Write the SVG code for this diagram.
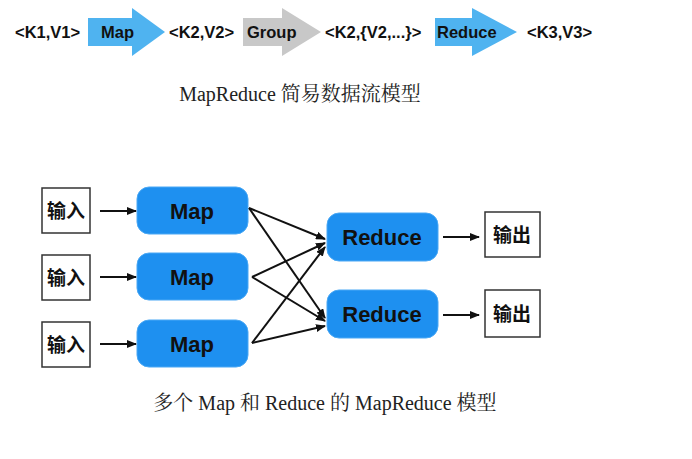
<svg xmlns="http://www.w3.org/2000/svg" width="692" height="459" viewBox="0 0 692 459">
<style>
.t{font-family:"Liberation Sans","Noto Sans CJK SC",sans-serif;font-weight:bold;fill:#111}
.cap{font-family:"Liberation Serif","Noto Serif CJK SC","Noto Sans CJK SC",serif;font-size:20px;fill:#222}
.blue{fill:#1e90f0;stroke:#4aa8f5;stroke-width:1}
.box{fill:#fff;stroke:#333;stroke-width:1.5}
.c line{stroke:#111;stroke-width:2}
</style>
<defs><marker id="a" markerWidth="10" markerHeight="8" refX="9" refY="4" orient="auto" markerUnits="userSpaceOnUse"><path d="M0,0 L10,4 L0,8 z" fill="#111"/></marker></defs>
<rect width="692" height="459" fill="#fff"/>
<g id="flow">
<polygon points="88,18 132,18 132,8 165,32 132,56 132,46 88,46" fill="#4fb3f0"/>
<polygon points="243,18 282,18 282,8 321,32 282,56 282,46 243,46" fill="#c8c8c8"/>
<polygon points="435,18 472,18 472,8 517,32 472,56 472,46 435,46" fill="#4fb3f0"/>
<g class="t" font-size="16.5">
<text x="15" y="38">&lt;K1,V1&gt;</text>
<text x="101" y="38">Map</text>
<text x="169" y="38">&lt;K2,V2&gt;</text>
<text x="247" y="38">Group</text>
<text x="325" y="38">&lt;K2,{V2,...}&gt;</text>
<text x="437" y="38">Reduce</text>
<text x="527" y="38">&lt;K3,V3&gt;</text>
</g>
<text class="cap" x="300" y="101" text-anchor="middle">MapReduce 简易数据流模型</text>
</g>
<g id="in1"><rect class="box" x="42" y="188" width="48" height="45"/><text class="t" x="66" y="218" font-size="19" text-anchor="middle">输入</text></g>
<g id="in2"><rect class="box" x="42" y="255" width="48" height="45"/><text class="t" x="66" y="285" font-size="19" text-anchor="middle">输入</text></g>
<g id="in3"><rect class="box" x="42" y="322" width="48" height="45"/><text class="t" x="66" y="352" font-size="19" text-anchor="middle">输入</text></g>
<g id="map1"><rect class="blue" x="137" y="187" width="111" height="47" rx="12"/><text class="t" x="192" y="219" font-size="22" text-anchor="middle">Map</text></g>
<g id="map2"><rect class="blue" x="137" y="253" width="111" height="47" rx="12"/><text class="t" x="192" y="285" font-size="22" text-anchor="middle">Map</text></g>
<g id="map3"><rect class="blue" x="137" y="320" width="111" height="47" rx="12"/><text class="t" x="192" y="352" font-size="22" text-anchor="middle">Map</text></g>
<g id="red1"><rect class="blue" x="327" y="213" width="111" height="48" rx="12"/><text class="t" x="382" y="245" font-size="22" text-anchor="middle">Reduce</text></g>
<g id="red2"><rect class="blue" x="327" y="290" width="111" height="48" rx="12"/><text class="t" x="382" y="322" font-size="22" text-anchor="middle">Reduce</text></g>
<g id="out1"><rect class="box" x="485" y="212" width="55" height="45"/><text class="t" x="512" y="242" font-size="19" text-anchor="middle">输出</text></g>
<g id="out2"><rect class="box" x="485" y="290" width="55" height="47"/><text class="t" x="512" y="321" font-size="19" text-anchor="middle">输出</text></g>
<g class="c" id="connectors">
<line x1="100" y1="211" x2="136" y2="211" marker-end="url(#a)"/>
<line x1="100" y1="277" x2="136" y2="277" marker-end="url(#a)"/>
<line x1="100" y1="344" x2="136" y2="344" marker-end="url(#a)"/>
<line x1="249" y1="208" x2="325" y2="239" marker-end="url(#a)"/>
<line x1="249" y1="208" x2="325" y2="318" marker-end="url(#a)"/>
<line x1="252" y1="277" x2="325" y2="243" marker-end="url(#a)"/>
<line x1="252" y1="277" x2="325" y2="321" marker-end="url(#a)"/>
<line x1="252" y1="343" x2="325" y2="247" marker-end="url(#a)"/>
<line x1="252" y1="343" x2="325" y2="326" marker-end="url(#a)"/>
<line x1="443" y1="237" x2="479" y2="237" marker-end="url(#a)"/>
<line x1="443" y1="315" x2="479" y2="315" marker-end="url(#a)"/>
</g>
<text class="cap" x="325" y="410" text-anchor="middle">多个 Map 和 Reduce 的 MapReduce 模型</text>
</svg>
